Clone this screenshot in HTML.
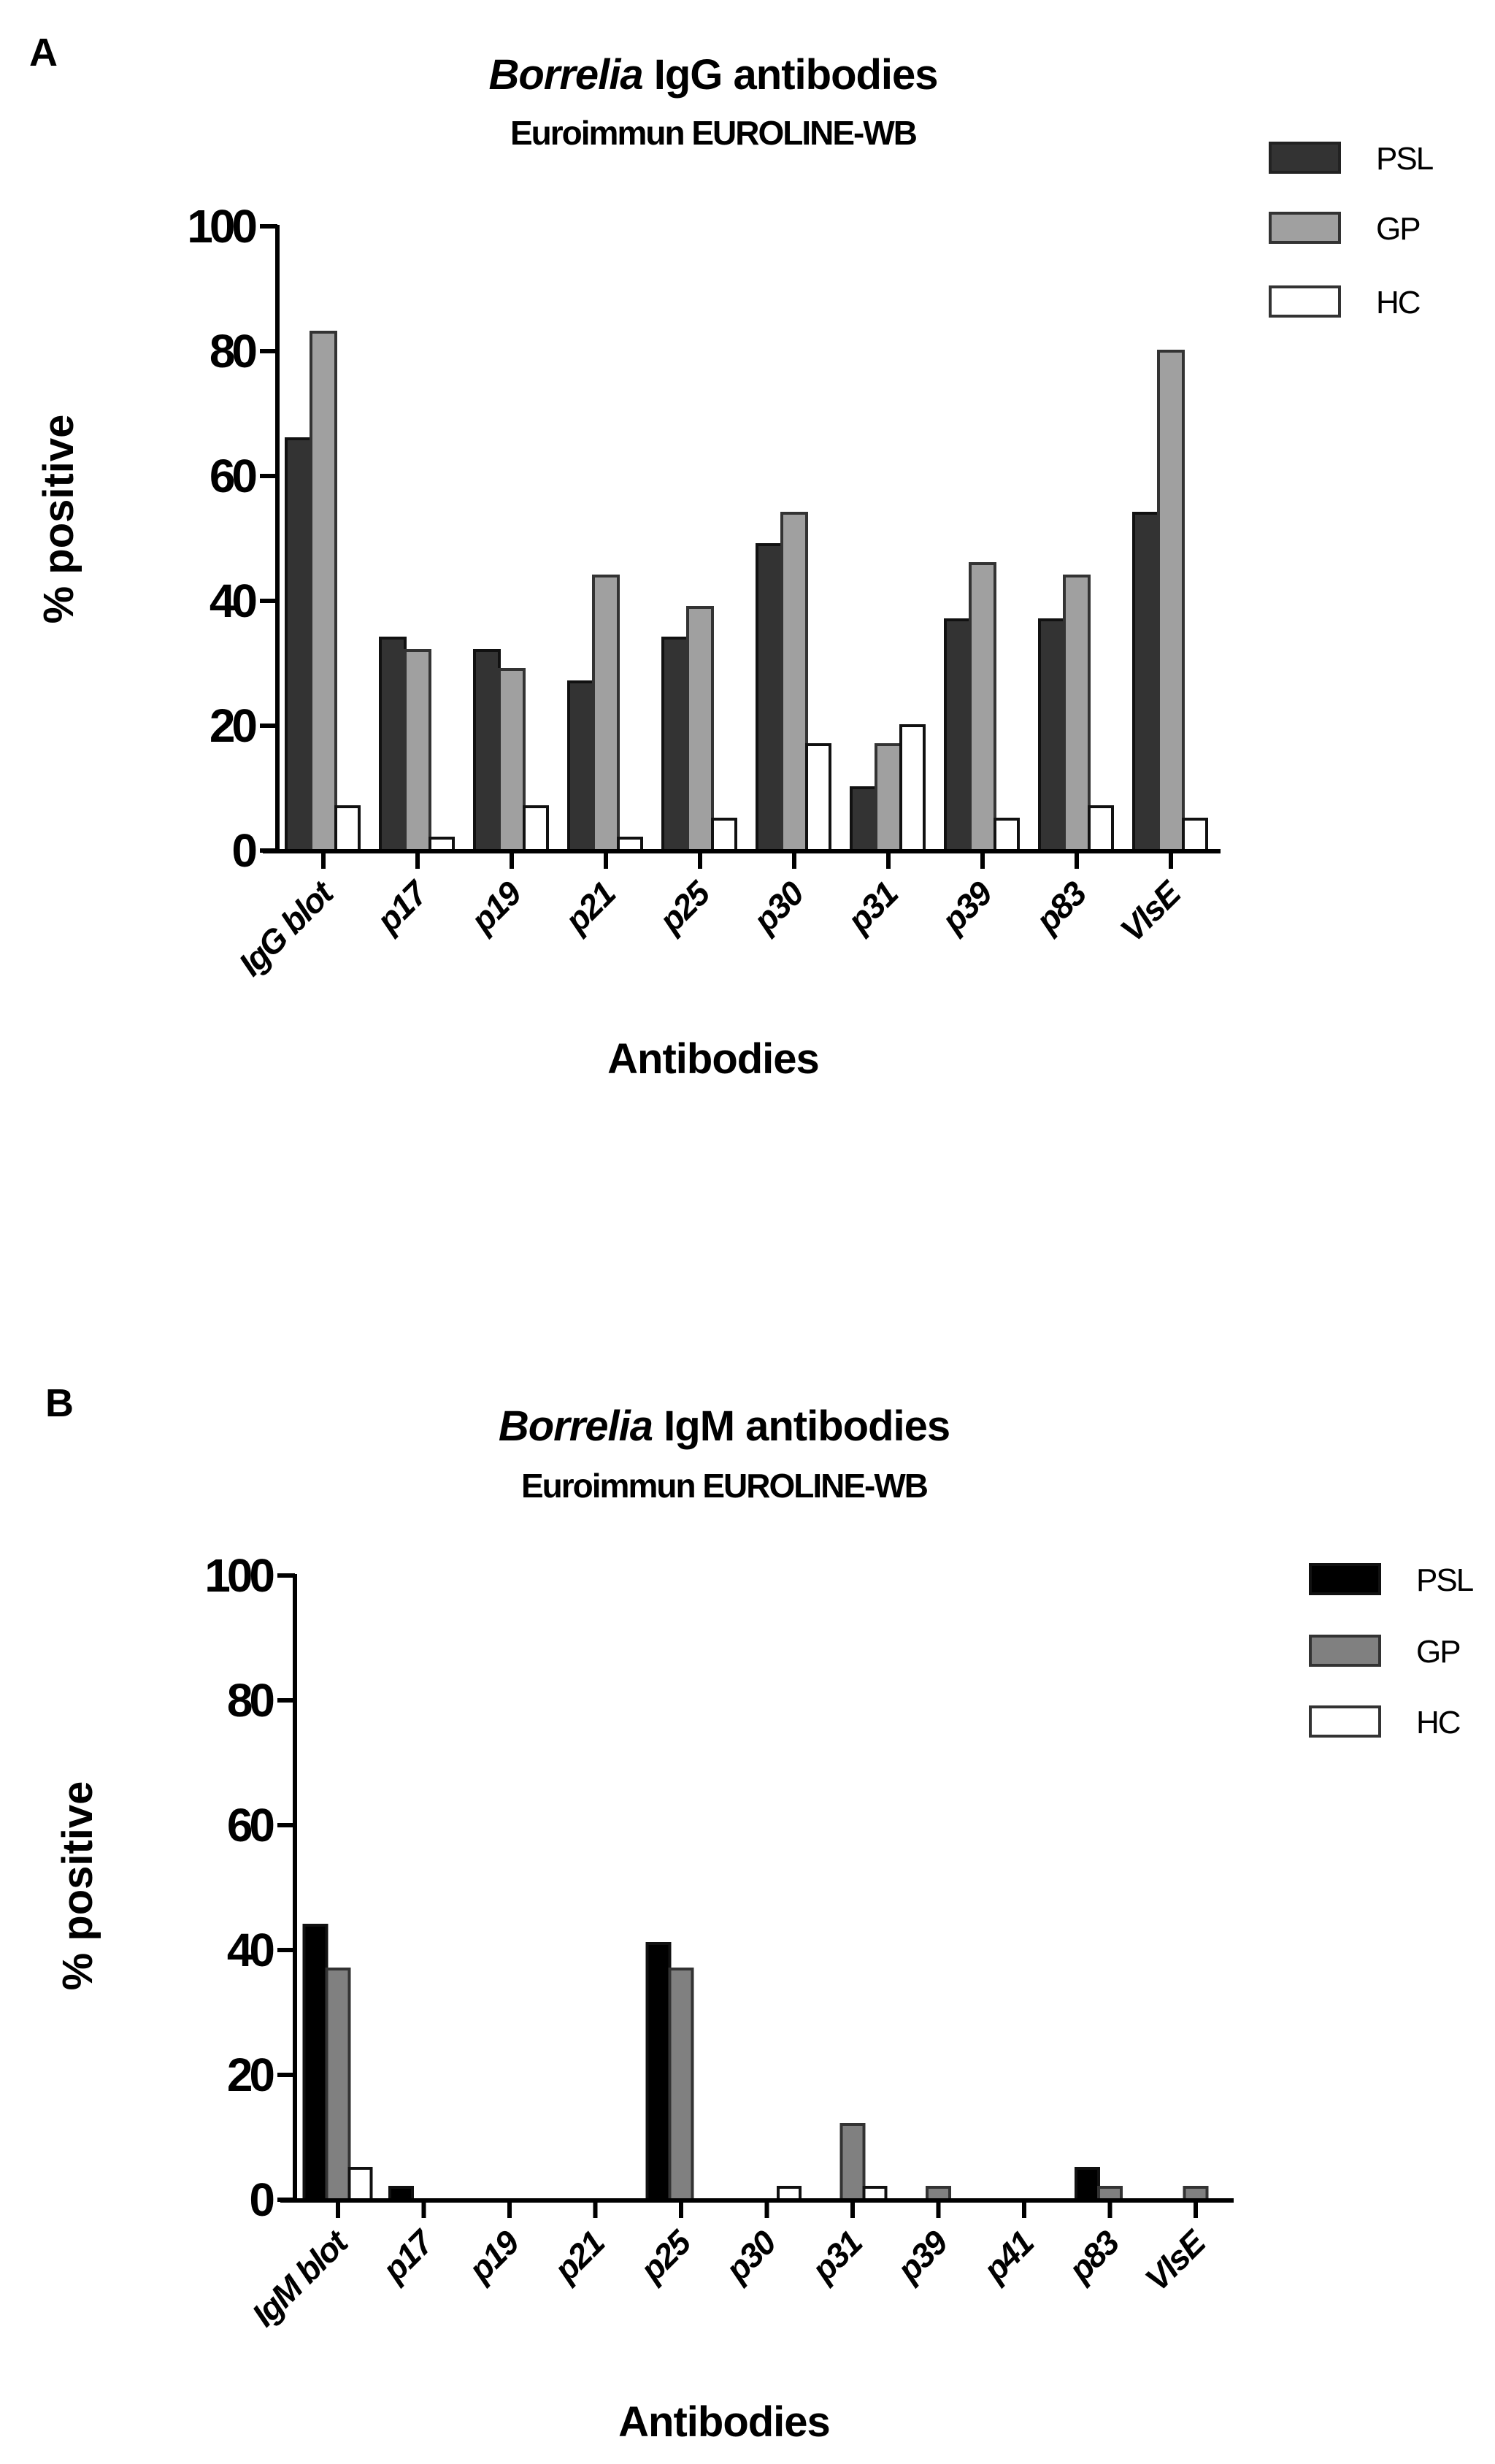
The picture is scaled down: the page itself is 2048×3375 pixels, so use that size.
<!DOCTYPE html>
<html><head><meta charset="utf-8"><style>
html,body{margin:0;padding:0;background:#fff;}
svg{display:block;}
text{font-family:"Liberation Sans",sans-serif;fill:#000;}
</style></head><body>
<svg width="2048" height="3375" viewBox="0 0 2048 3375" xmlns="http://www.w3.org/2000/svg">
<!-- ===== Panel A ===== -->
<text x="40" y="90" font-size="54" font-weight="bold">A</text>
<text x="977" y="122" font-size="58" font-weight="bold" text-anchor="middle" letter-spacing="-1"><tspan font-style="italic">Borrelia</tspan> IgG antibodies</text>
<text x="977" y="198" font-size="46" font-weight="bold" text-anchor="middle" letter-spacing="-2">Euroimmun EUROLINE-WB</text>
<!-- legend A -->
<rect x="1740" y="196" width="95" height="40" fill="#333" stroke="#222" stroke-width="4"/>
<rect x="1740" y="292" width="95" height="40" fill="#a0a0a0" stroke="#333" stroke-width="4"/>
<rect x="1740" y="393" width="95" height="40" fill="#fff" stroke="#333" stroke-width="4"/>
<text x="1885" y="232" font-size="44" letter-spacing="-2">PSL</text>
<text x="1885" y="328" font-size="44" letter-spacing="-2">GP</text>
<text x="1885" y="429" font-size="44" letter-spacing="-2">HC</text>
<!-- bars A -->
<g transform="translate(0,1165) scale(1,-1)" stroke="#111" stroke-width="4">
<g fill="#333">
<rect x="392" y="0" width="34" height="564"/><rect x="521" y="0" width="34" height="291"/><rect x="650" y="0" width="34" height="274"/><rect x="779" y="0" width="34" height="231"/><rect x="908" y="0" width="34" height="291"/><rect x="1037" y="0" width="34" height="419"/><rect x="1166" y="0" width="34" height="86"/><rect x="1295" y="0" width="34" height="316"/><rect x="1424" y="0" width="34" height="316"/><rect x="1553" y="0" width="34" height="462"/>
</g>
<g fill="#a0a0a0" stroke="#333">
<rect x="426" y="0" width="34" height="710"/><rect x="555" y="0" width="34" height="274"/><rect x="684" y="0" width="34" height="248"/><rect x="813" y="0" width="34" height="376"/><rect x="942" y="0" width="34" height="333"/><rect x="1071" y="0" width="34" height="462"/><rect x="1200" y="0" width="34" height="145"/><rect x="1329" y="0" width="34" height="393"/><rect x="1458" y="0" width="34" height="376"/><rect x="1587" y="0" width="34" height="684"/>
</g>
<g fill="#fff">
<rect x="460" y="0" width="32" height="60"/><rect x="589" y="0" width="32" height="17"/><rect x="718" y="0" width="32" height="60"/><rect x="847" y="0" width="32" height="17"/><rect x="976" y="0" width="32" height="43"/><rect x="1105" y="0" width="32" height="145"/><rect x="1234" y="0" width="32" height="171"/><rect x="1363" y="0" width="32" height="43"/><rect x="1492" y="0" width="32" height="60"/><rect x="1621" y="0" width="32" height="43"/>
</g>
</g>
<!-- axes A -->
<g stroke="#000" stroke-width="6">
<line x1="380" y1="308" x2="380" y2="1168"/>
<line x1="360" y1="1166" x2="1672" y2="1166"/>
<line x1="356" y1="310" x2="380" y2="310"/><line x1="356" y1="481" x2="380" y2="481"/><line x1="356" y1="652" x2="380" y2="652"/><line x1="356" y1="823" x2="380" y2="823"/><line x1="356" y1="994" x2="380" y2="994"/><line x1="356" y1="1165" x2="380" y2="1165"/>
<line x1="443" y1="1166" x2="443" y2="1190"/><line x1="572" y1="1166" x2="572" y2="1190"/><line x1="701" y1="1166" x2="701" y2="1190"/><line x1="830" y1="1166" x2="830" y2="1190"/><line x1="959" y1="1166" x2="959" y2="1190"/><line x1="1088" y1="1166" x2="1088" y2="1190"/><line x1="1217" y1="1166" x2="1217" y2="1190"/><line x1="1346" y1="1166" x2="1346" y2="1190"/><line x1="1475" y1="1166" x2="1475" y2="1190"/><line x1="1604" y1="1166" x2="1604" y2="1190"/>
</g>
<g font-size="64" font-weight="bold" text-anchor="end" letter-spacing="-5">
<text x="348" y="332">100</text><text x="348" y="503">80</text><text x="348" y="674">60</text><text x="348" y="845">40</text><text x="348" y="1016">20</text><text x="348" y="1187">0</text>
</g>
<g font-size="46" font-weight="bold" font-style="italic" text-anchor="end" letter-spacing="-2">
<text transform="translate(458,1228) rotate(-45)">IgG blot</text>
<text transform="translate(587,1228) rotate(-45)">p17</text>
<text transform="translate(716,1228) rotate(-45)">p19</text>
<text transform="translate(845,1228) rotate(-45)">p21</text>
<text transform="translate(974,1228) rotate(-45)">p25</text>
<text transform="translate(1103,1228) rotate(-45)">p30</text>
<text transform="translate(1232,1228) rotate(-45)">p31</text>
<text transform="translate(1361,1228) rotate(-45)">p39</text>
<text transform="translate(1490,1228) rotate(-45)">p83</text>
<text transform="translate(1619,1228) rotate(-45)">VlsE</text>
</g>
<text transform="translate(100,711) rotate(-90)" font-size="58" font-weight="bold" text-anchor="middle">% positive</text>
<text x="977" y="1470" font-size="58" font-weight="bold" text-anchor="middle" letter-spacing="-1">Antibodies</text>

<!-- ===== Panel B ===== -->
<text x="62" y="1940" font-size="54" font-weight="bold">B</text>
<text x="992" y="1973" font-size="58" font-weight="bold" text-anchor="middle" letter-spacing="-1"><tspan font-style="italic">Borrelia</tspan> IgM antibodies</text>
<text x="992" y="2051" font-size="46" font-weight="bold" text-anchor="middle" letter-spacing="-2">Euroimmun EUROLINE-WB</text>
<rect x="1795" y="2143" width="95" height="40" fill="#000" stroke="#111" stroke-width="4"/>
<rect x="1795" y="2241" width="95" height="40" fill="#808080" stroke="#333" stroke-width="4"/>
<rect x="1795" y="2338" width="95" height="40" fill="#fff" stroke="#333" stroke-width="4"/>
<text x="1940" y="2179" font-size="44" letter-spacing="-2">PSL</text>
<text x="1940" y="2277" font-size="44" letter-spacing="-2">GP</text>
<text x="1940" y="2374" font-size="44" letter-spacing="-2">HC</text>
<g transform="translate(0,3013) scale(1,-1)" stroke="#111" stroke-width="4">
<g fill="#000">
<rect x="416.5" y="0" width="31" height="376"/><rect x="534" y="0" width="31" height="17"/><rect x="886.5" y="0" width="31" height="351"/><rect x="1474" y="0" width="31" height="43"/>
</g>
<g fill="#808080" stroke="#333">
<rect x="447.5" y="0" width="31" height="316"/><rect x="917.5" y="0" width="31" height="316"/><rect x="1152.5" y="0" width="31" height="103"/><rect x="1270" y="0" width="31" height="17"/><rect x="1505" y="0" width="31" height="17"/><rect x="1622.5" y="0" width="31" height="17"/>
</g>
<g fill="#fff">
<rect x="478.5" y="0" width="30" height="43"/><rect x="1066" y="0" width="30" height="17"/><rect x="1183.5" y="0" width="30" height="17"/>
</g>
</g>
<g stroke="#000" stroke-width="6">
<line x1="404" y1="2156" x2="404" y2="3016"/>
<line x1="384" y1="3014" x2="1690" y2="3014"/>
<line x1="380" y1="2158" x2="404" y2="2158"/><line x1="380" y1="2329" x2="404" y2="2329"/><line x1="380" y1="2500" x2="404" y2="2500"/><line x1="380" y1="2671" x2="404" y2="2671"/><line x1="380" y1="2842" x2="404" y2="2842"/><line x1="380" y1="3013" x2="404" y2="3013"/>
<line x1="463" y1="3014" x2="463" y2="3038"/><line x1="580.5" y1="3014" x2="580.5" y2="3038"/><line x1="698" y1="3014" x2="698" y2="3038"/><line x1="815.5" y1="3014" x2="815.5" y2="3038"/><line x1="933" y1="3014" x2="933" y2="3038"/><line x1="1050.5" y1="3014" x2="1050.5" y2="3038"/><line x1="1168" y1="3014" x2="1168" y2="3038"/><line x1="1285.5" y1="3014" x2="1285.5" y2="3038"/><line x1="1403" y1="3014" x2="1403" y2="3038"/><line x1="1520.5" y1="3014" x2="1520.5" y2="3038"/><line x1="1638" y1="3014" x2="1638" y2="3038"/>
</g>
<g font-size="64" font-weight="bold" text-anchor="end" letter-spacing="-5">
<text x="372" y="2180">100</text><text x="372" y="2351">80</text><text x="372" y="2522">60</text><text x="372" y="2693">40</text><text x="372" y="2864">20</text><text x="372" y="3035">0</text>
</g>
<g font-size="46" font-weight="bold" font-style="italic" text-anchor="end" letter-spacing="-2">
<text transform="translate(478,3076) rotate(-45)">IgM blot</text>
<text transform="translate(595,3076) rotate(-45)">p17</text>
<text transform="translate(713,3076) rotate(-45)">p19</text>
<text transform="translate(830,3076) rotate(-45)">p21</text>
<text transform="translate(948,3076) rotate(-45)">p25</text>
<text transform="translate(1065,3076) rotate(-45)">p30</text>
<text transform="translate(1183,3076) rotate(-45)">p31</text>
<text transform="translate(1300,3076) rotate(-45)">p39</text>
<text transform="translate(1418,3076) rotate(-45)">p41</text>
<text transform="translate(1535,3076) rotate(-45)">p83</text>
<text transform="translate(1653,3076) rotate(-45)">VlsE</text>
</g>
<text transform="translate(126,2583) rotate(-90)" font-size="58" font-weight="bold" text-anchor="middle">% positive</text>
<text x="992" y="3337" font-size="58" font-weight="bold" text-anchor="middle" letter-spacing="-1">Antibodies</text>
</svg>
</body></html>
